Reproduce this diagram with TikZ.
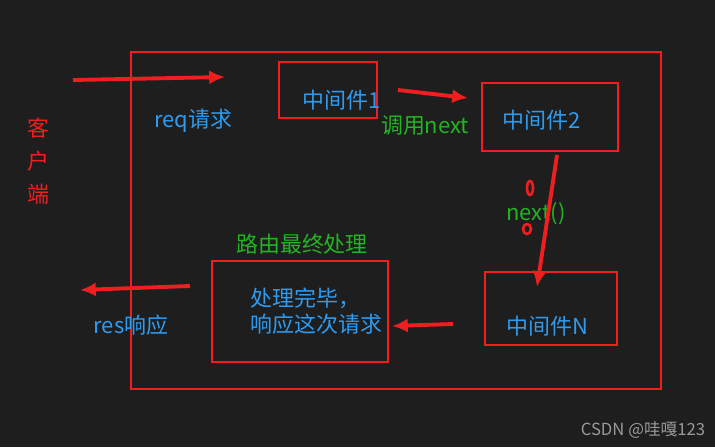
\documentclass[tikz,border=0pt]{standalone}
\usepackage{fontspec}
\usepackage{xcolor}
\usepackage{tikz}
\usetikzlibrary{arrows.meta}
\setmainfont{Noto Sans CJK SC}
\definecolor{bg}{HTML}{1E1E1E}
\definecolor{redline}{HTML}{F01E1E}
\definecolor{bluetxt}{HTML}{2E9BF0}
\definecolor{greentxt}{HTML}{22B422}

\begin{document}
\begin{tikzpicture}[x=0.02cm, y=-0.02cm,
    box/.style={draw=redline, line width=1.6pt},
    redarrow/.style={redline, line width=2.2pt, -{Latex[length=9pt,width=8pt]}},
    bluelabel/.style={text=bluetxt, font=\fontsize{12.5pt}{15pt}\selectfont},
    greenlabel/.style={text=greentxt, font=\fontsize{12.5pt}{15pt}\selectfont}]
    \fill[bg] (0, 0) rectangle (715, 447);
    \useasboundingbox (0, 0) rectangle (715, 447);

    \draw[box](131, 52) rectangle (661, 389);
    \draw[box](279, 62) rectangle (377, 118);
    \draw[box](482, 83) rectangle (618, 151);
    \draw[box](485, 272) rectangle (617, 345);
    \draw[box](212, 261) rectangle (388, 362);

    \node[bluelabel] (mw1) at (342, 100) {中间件1};
    \node[bluelabel] (mw2) at (542, 120) {中间件2};
    \node[bluelabel] (mwn) at (547, 326) {中间件N};
    \node[bluelabel, align=left, anchor=west] (done) at (244, 311) {处理完毕，\\响应这次请求};
    \node[greenlabel] (route) at (302, 244) {路由最终处理};
    \node[text=redline, font=\fontsize{12.5pt}{19pt}\selectfont, align=center] (client) at (38, 161) {客\\户\\端};
    \node[bluelabel] (req) at (193, 121) {req请求};
    \node[greenlabel] (callnext) at (425, 125) {调用next};
    \node[greenlabel] (nextcall) at (536, 214) {next()};
    \node[bluelabel] (res) at (131, 325) {res响应};
    \node[text=gray!80, font=\fontsize{9.5pt}{12pt}\selectfont] (csdn) at (643, 430) {CSDN @哇嘎123};

    \coordinate (a1) at (73, 80);   \coordinate (a2) at (225, 77);
    \coordinate (b1) at (398, 90);  \coordinate (b2) at (468, 98);
    \coordinate (c1) at (557, 155); \coordinate (c2) at (537, 287);
    \coordinate (d1) at (453, 324); \coordinate (d2) at (392, 326);
    \coordinate (e1) at (190, 286); \coordinate (e2) at (80, 290);
    \draw[redarrow] (a1) -- (a2);
    \draw[redarrow] (b1) -- (b2);
    \draw[redarrow] (c1) -- (c2);
    \draw[redarrow] (d1) -- (d2);
    \draw[redarrow] (e1) -- (e2);

    \draw[redline, line width=1.5pt] (530, 188) ellipse [x radius=3, y radius=7];
    \draw[redline, line width=1.5pt] (527, 229) ellipse [x radius=4, y radius=5];
\end{tikzpicture}
\end{document}
